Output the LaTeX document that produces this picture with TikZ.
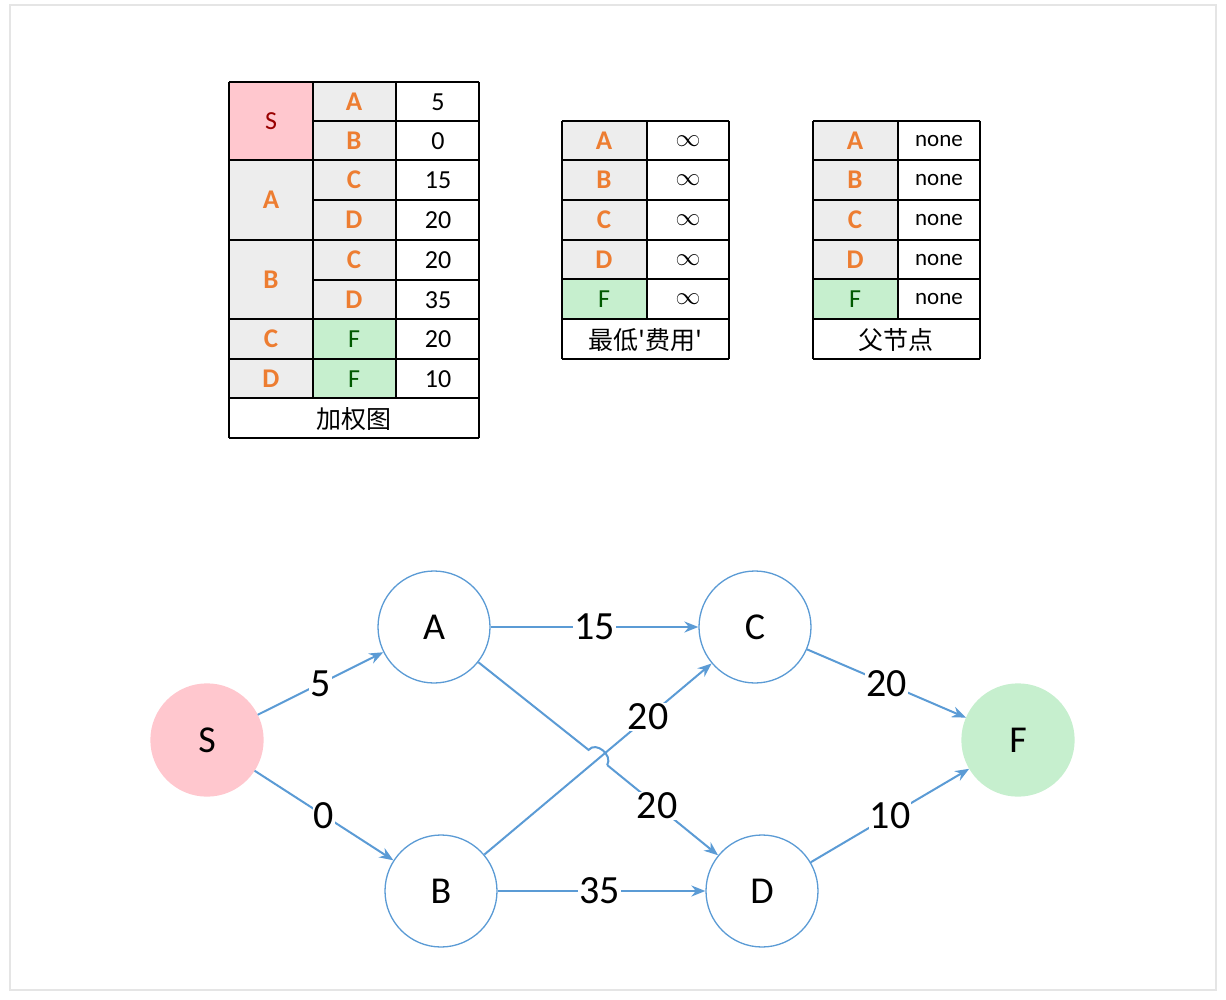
\documentclass[tikz,border=0pt]{standalone}
\usepackage{fontspec}
\setmainfont{Carlito}
\newfontfamily\cjk{Noto Sans CJK SC}
\usetikzlibrary{arrows.meta}
\definecolor{eb}{HTML}{5B9BD5}
\definecolor{org}{HTML}{ED7D31}
\definecolor{pinkc}{HTML}{FFC7CE}
\definecolor{greenc}{HTML}{C6EFCE}
\definecolor{grayc}{HTML}{EDEDED}
\tikzset{
 cell/.style={draw=black,line width=1.2pt},
 nd/.style={circle,draw=eb,line width=1.3pt,fill=white,minimum size=112pt,inner sep=0pt,font=\fontsize{38}{38}\selectfont},
 ed/.style={eb,line width=2pt,-{Stealth[length=14pt,width=11pt]}},
 lab/.style={fill=white,text=black,inner sep=1pt,font=\fontsize{40}{40}\selectfont},
 tt/.style={font=\fontsize{26}{26}\selectfont},
 ot/.style={font=\fontsize{27}{27}\selectfont\bfseries,text=org},
}
\begin{document}
\begin{tikzpicture}[x=1pt,y=-1pt]
\useasboundingbox (0,0) rectangle (1226,1000);
\draw[draw=gray!20,line width=1.5pt] (10,5) rectangle (1216,990);
% table 1
\fill[pinkc] (229,82) rectangle (313,160);
\fill[grayc] (229,160) rectangle (313,398);
\fill[grayc] (313,82) rectangle (396,319);
\fill[greenc] (313,319) rectangle (396,398);
\foreach \y in {82,121,160,200,240,280,319,359,398}{\draw[cell] (313,\y) -- (479,\y);}
\foreach \y in {82,160,240,319,359,398,438}{\draw[cell] (229,\y) -- (313,\y);}
\draw[cell] (229,438) -- (479,438);
\draw[cell] (229,82) -- (229,438) (479,82) -- (479,438);
\draw[cell] (313,82) -- (313,398) (396,82) -- (396,398);
\node[tt,text=red!60!black] (t1s) at (271,121) {S};
\node[ot] (t1a) at (271,200) {A};
\node[ot] (t1b) at (271,280) {B};
\node[ot] (t1c) at (271,339) {C};
\node[ot] (t1d) at (271,379) {D};
\foreach \y/\l/\v [count=\i] in {102/A/5,141/B/0,180/C/15,220/D/20,260/C/20,300/D/35}{
 \node[ot] (t1l\i) at (354,\y) {\l};
 \node[tt] (t1v\i) at (438,\y) {\v};}
\node[tt,text=green!35!black] (t1f1) at (354,339) {F};
\node[tt,text=green!35!black] (t1f2) at (354,379) {F};
\node[tt] (t1v7) at (438,339) {20};
\node[tt] (t1v8) at (438,379) {10};
\node[tt,font=\cjk\fontsize{25}{25}\selectfont] (cap1) at (354,419) {加权图};
% tables 2 and 3
\foreach \x/\v/\cap/\n in {562/{$\infty$}/{最低'费用'}/2,813/none/父节点/3}{
 \fill[grayc] (\x,121) rectangle (\x+85,279);
 \fill[greenc] (\x,279) rectangle (\x+85,319);
 \foreach \y in {121,160,200,240,279,319,359}{\draw[cell] (\x,\y) -- (\x+167,\y);}
 \draw[cell] (\x,121) -- (\x,359) (\x+167,121) -- (\x+167,359) (\x+85,121) -- (\x+85,319);
 \foreach \y/\l [count=\i] in {141/A,180/B,220/C,260/D}{
  \node[ot] (t\n l\i) at (\x+42,\y) {\l};
  \node[tt,font=\fontsize{23}{23}\selectfont] (t\n v\i) at (\x+126,\y) {\v};}
 \node[tt,text=green!35!black] (t\n f) at (\x+42,299) {F};
 \node[tt,font=\fontsize{23}{23}\selectfont] (t\n v5) at (\x+126,299) {\v};
 \node[font=\cjk\fontsize{25}{25}\selectfont] (cap\n) at (\x+83,340) {\cap};
}
% graph
\node[nd,fill=pinkc,draw=pinkc] (S) at (207,740) {S};
\node[nd] (A) at (434,627) {A};
\node[nd] (B) at (441,891) {B};
\node[nd] (C) at (755,627) {C};
\node[nd] (D) at (762,891) {D};
\node[nd,fill=greenc,draw=greenc] (F) at (1018,740) {F};
\draw[ed] (S) -- node[lab,pos=0.5] {5} (A);
\draw[ed] (S) -- node[lab,pos=0.5] {0} (B);
\draw[ed] (A) -- node[lab,pos=0.5] {15} (C);
\draw[ed] (B) -- node[lab,pos=0.72] {20} (C);
\draw[ed] (B) -- node[lab,pos=0.49] {35} (D);
\draw[ed] (C) -- node[lab,pos=0.5] {20} (F);
\draw[ed] (D) -- node[lab,pos=0.5] {10} (F);
\coordinate (h1) at (588.6,749.9);
\coordinate (h2) at (607.2,765.1);
\draw[eb,line width=2pt] (A) -- (h1) .. controls (596,741) and (613,755) .. (h2);
\draw[ed] (h2) -- node[lab,pos=0.45] {20} (D);
\end{tikzpicture}
\end{document}
